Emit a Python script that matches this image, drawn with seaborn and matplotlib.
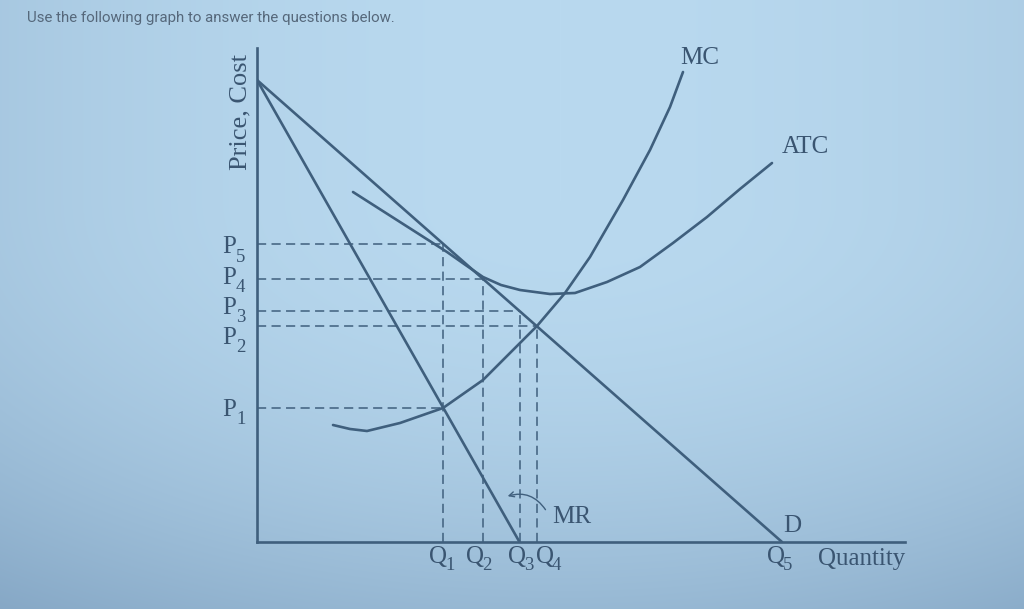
"""
Monopoly cost / revenue diagram (D, MR, ATC, MC) redrawn from a screen photo
"""

import matplotlib
matplotlib.use('Agg')
import matplotlib.pyplot as plt
import numpy as np
import pandas as pd
import seaborn as sns

# Straight lines, read at their ends
DEMAND_Q = [0.0, 52.5]
DEMAND_P = [46.2, 0.0]
MR_Q = [0.0, 26.25]
MR_P = [46.2, 0.0]

# Cost curves
ATC_Q = [9.6, 14.3, 19.0, 21.0, 22.6, 24.4, 26.3, 29.3, 31.8, 35.0, 38.3, 41.6, 45.0, 48.3, 51.5]
ATC_P = [35.0, 32.0, 29.0, 27.6, 26.5, 25.7, 25.2, 24.8, 24.9, 26.0, 27.5, 29.9, 32.5, 35.3, 37.9]
MC_Q = [7.6, 9.3, 11.0, 14.3, 18.6, 22.6, 28.0, 30.8, 33.3, 36.6, 39.3, 41.3, 42.6]
MC_P = [11.7, 11.3, 11.1, 11.9, 13.4, 16.2, 21.6, 24.9, 28.5, 34.2, 39.2, 43.5, 47.0]

# Marked prices and quantities (dashed guides run to the paired value)
P_NAMES = ['1', '2', '3', '4', '5']
P_VALUES = [13.4, 21.6, 23.1, 26.3, 29.8]
P_DASH_TO_Q = [18.6, 28.0, 26.25, 22.6, 18.6]
Q_NAMES = ['1', '2', '3', '4', '5']
Q_VALUES = [18.6, 22.6, 26.25, 28.0, 52.5]
Q_DASH_TO_P = [29.8, 26.3, 23.1, 21.6, 0.0]

LINE = '#3f5f7d'
TEXT = '#3a5571'

sns.set_theme(style='white')
plt.rcParams['font.family'] = ['Liberation Serif', 'DejaVu Serif']

fig = plt.figure(figsize=(10.24, 6.09), dpi=100)

# Photo-like backdrop: light screen blue, darker toward the bottom corners
bg = fig.add_axes([0, 0, 1, 1], zorder=0)
yy, xx = np.mgrid[0:609, 0:1024]
t = 0.3 * ((xx - 560) / 560.0) ** 2 + 0.6 * (np.clip(yy - 200, 0, None) / 410.0) ** 2
t = np.clip(t, 0, 1)[..., None]
c_mid = np.array([0xb9, 0xd9, 0xef]) / 255.0
c_edge = np.array([0x80, 0xa2, 0xc1]) / 255.0
bg.imshow(c_mid + (c_edge - c_mid) * t, aspect='auto')
bg.axis('off')

ax = fig.add_axes([257 / 1024, 67 / 609, 648 / 1024, 494 / 609], zorder=1)
ax.set_facecolor('none')

curves = pd.concat([
    pd.DataFrame({'curve': 'D', 'q': DEMAND_Q, 'p': DEMAND_P}),
    pd.DataFrame({'curve': 'MR', 'q': MR_Q, 'p': MR_P}),
    pd.DataFrame({'curve': 'ATC', 'q': ATC_Q, 'p': ATC_P}),
    pd.DataFrame({'curve': 'MC', 'q': MC_Q, 'p': MC_P}),
], ignore_index=True)
sns.lineplot(data=curves, x='q', y='p', units='curve', estimator=None, sort=False,
             color=LINE, lw=1.9, ax=ax)

# Dashed guides
dash = (0, (6, 3.5))
ax.hlines(P_VALUES, 0, P_DASH_TO_Q, colors=LINE, linestyles=dash, lw=1.1)
ax.vlines(Q_VALUES[:4], 0, Q_DASH_TO_P[:4], colors=LINE, linestyles=dash, lw=1.1)

ax.set_xlim(0, 64.8)
ax.set_ylim(0, 49.4)
ax.set_xticks([])
ax.set_yticks([])
ax.set_xlabel('')
ax.set_ylabel('')
for side in ['top', 'right']:
    ax.spines[side].set_visible(False)
for side in ['left', 'bottom']:
    ax.spines[side].set_color(LINE)
    ax.spines[side].set_linewidth(1.9)

# Price labels: letter plus a lowered index, nudged apart where levels crowd
p_shift = [-0.2, -1.2, 0.3, 0.1, -0.3]
for name, p, dp in zip(P_NAMES, P_VALUES, p_shift):
    ax.text(-2.05, p + dp, 'P', ha='right', va='center', fontsize=18, color=TEXT, clip_on=False)
    ax.text(-2.1, p + dp - 1.0, name, ha='left', va='center', fontsize=13.5,
            color=TEXT, clip_on=False)

# Quantity labels
q_shift = [-0.5, -0.8, -0.25, 0.8, -0.6]
for name, q, dq in zip(Q_NAMES, Q_VALUES, q_shift):
    ax.text(q + dq, -1.5, 'Q', ha='center', va='center', fontsize=18, color=TEXT, clip_on=False)
    ax.text(q + dq + 0.7, -2.4, name, ha='left', va='center', fontsize=13.5,
            color=TEXT, clip_on=False)

ax.text(-1.7, 43.0, 'Price, Cost', rotation=90, ha='center', va='center',
        fontsize=19, color=TEXT, clip_on=False)
ax.text(64.8, -0.6, 'Quantity', ha='right', va='top', fontsize=18, color=TEXT, clip_on=False)
ax.text(44.3, 48.4, 'MC', ha='center', va='center', fontsize=18, color=TEXT, clip_on=False)
ax.text(54.8, 39.5, 'ATC', ha='center', va='center', fontsize=18, color=TEXT)
ax.text(29.5, 2.5, 'MR', ha='left', va='center', fontsize=18, color=TEXT)
ax.text(52.6, 0.5, 'D', ha='left', va='bottom', fontsize=18, color=TEXT)

ax.annotate('', xy=(24.8, 4.5), xytext=(29.0, 3.0),
            arrowprops=dict(arrowstyle='->', color=LINE, lw=1.0, mutation_scale=9,
                            connectionstyle='arc3,rad=0.4'))

fig.text(27 / 1024, 1 - 18 / 609, 'Use the following graph to answer the questions below.',
         ha='left', va='center', fontsize=10.8, family='Roboto', color='#56687b')

fig.savefig('out.png', dpi=100)
